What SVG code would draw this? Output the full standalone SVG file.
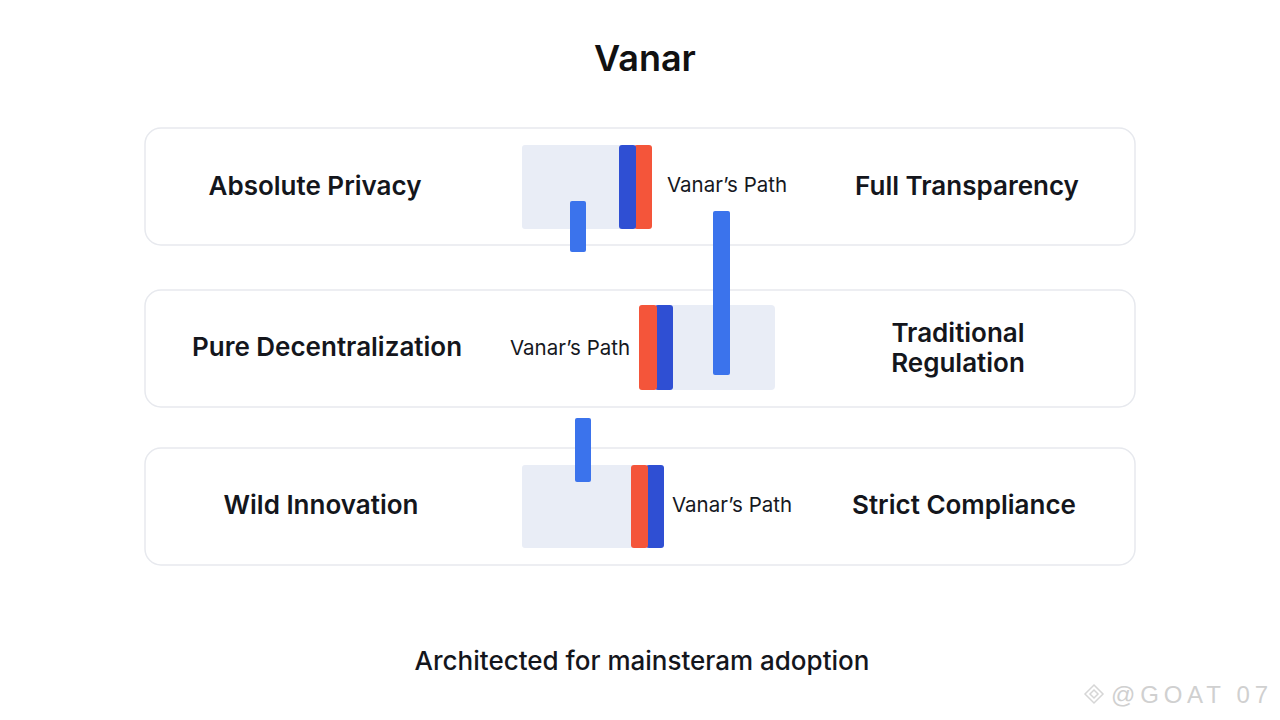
<svg xmlns="http://www.w3.org/2000/svg" width="1280" height="720" viewBox="0 0 1280 720">
<style>
.panel{fill:#fff;stroke:#e7e9ee;stroke-width:1.5}
.lbl{font-family:Inter,"Liberation Sans",sans-serif;font-size:26px;font-weight:600;fill:#14161c;text-anchor:middle;dominant-baseline:central}
.path{font-family:Inter,"Liberation Sans",sans-serif;font-size:20.5px;font-weight:400;fill:#16181e;dominant-baseline:central}
.box{fill:#e9edf6}
.dblue{fill:#2f4fd3}
.red{fill:#f4553a}
.blue{fill:#3b73ec}
</style>
<rect width="1280" height="720" fill="#fff"/>
<text x="645" y="58" font-family="Inter,'Liberation Sans',sans-serif" font-size="36" font-weight="600" fill="#111" text-anchor="middle" dominant-baseline="central">Vanar</text>

<g id="row1">
<rect class="panel" x="145" y="128" width="990" height="117" rx="16"/>
<text class="lbl" x="315" y="185">Absolute Privacy</text>
<text class="lbl" x="967" y="185">Full Transparency</text>
<rect class="box" x="522" y="145" width="128" height="84" rx="3"/>
<rect class="red" x="634" y="145" width="18" height="84" rx="3"/>
<rect class="dblue" x="619" y="145" width="17" height="84" rx="3"/>
<text class="path" x="667" y="184">Vanar’s Path</text>
</g>

<g id="row2">
<rect class="panel" x="145" y="290" width="990" height="117" rx="16"/>
<text class="lbl" x="327" y="346">Pure Decentralization</text>
<text class="lbl" x="958" y="332">Traditional</text>
<text class="lbl" x="958" y="362">Regulation</text>
<text class="path" x="510" y="347">Vanar’s Path</text>
<rect class="box" x="639" y="305" width="136" height="85" rx="4"/>
<rect class="dblue" x="655" y="305" width="18" height="85" rx="3"/>
<rect class="red" x="639" y="305" width="18" height="85" rx="3"/>
</g>

<g id="row3">
<rect class="panel" x="145" y="448" width="990" height="117" rx="16"/>
<text class="lbl" x="321" y="504">Wild Innovation</text>
<text class="lbl" x="964" y="504">Strict Compliance</text>
<rect class="box" x="522" y="465" width="130" height="83" rx="3"/>
<rect class="dblue" x="646" y="465" width="18" height="83" rx="3"/>
<rect class="red" x="631" y="465" width="17" height="83" rx="3"/>
<text class="path" x="672" y="504">Vanar’s Path</text>
</g>

<g id="connectors">
<rect class="blue" x="570" y="201" width="16" height="51" rx="2"/>
<rect class="blue" x="713" y="211" width="17" height="164" rx="2"/>
<rect class="blue" x="575" y="418" width="16" height="64" rx="2"/>
</g>

<text x="642" y="660" font-family="Inter,'Liberation Sans',sans-serif" font-size="26" font-weight="500" fill="#14161c" text-anchor="middle" dominant-baseline="central">Architected for mainsteram adoption</text>

<g id="watermark" fill="none" stroke="#d6d6d6" stroke-width="1.5">
<path d="M1094 685 l9 9 l-9 9 l-9 -9 z"/>
<path d="M1094 690 l4 4 l-4 4 l-4 -4 z"/>
</g>
<text x="1111" y="694" font-family="'Liberation Sans',sans-serif" font-size="24" fill="#d0d0d0" letter-spacing="4.8" dominant-baseline="central">@GOAT 07</text>
</svg>
